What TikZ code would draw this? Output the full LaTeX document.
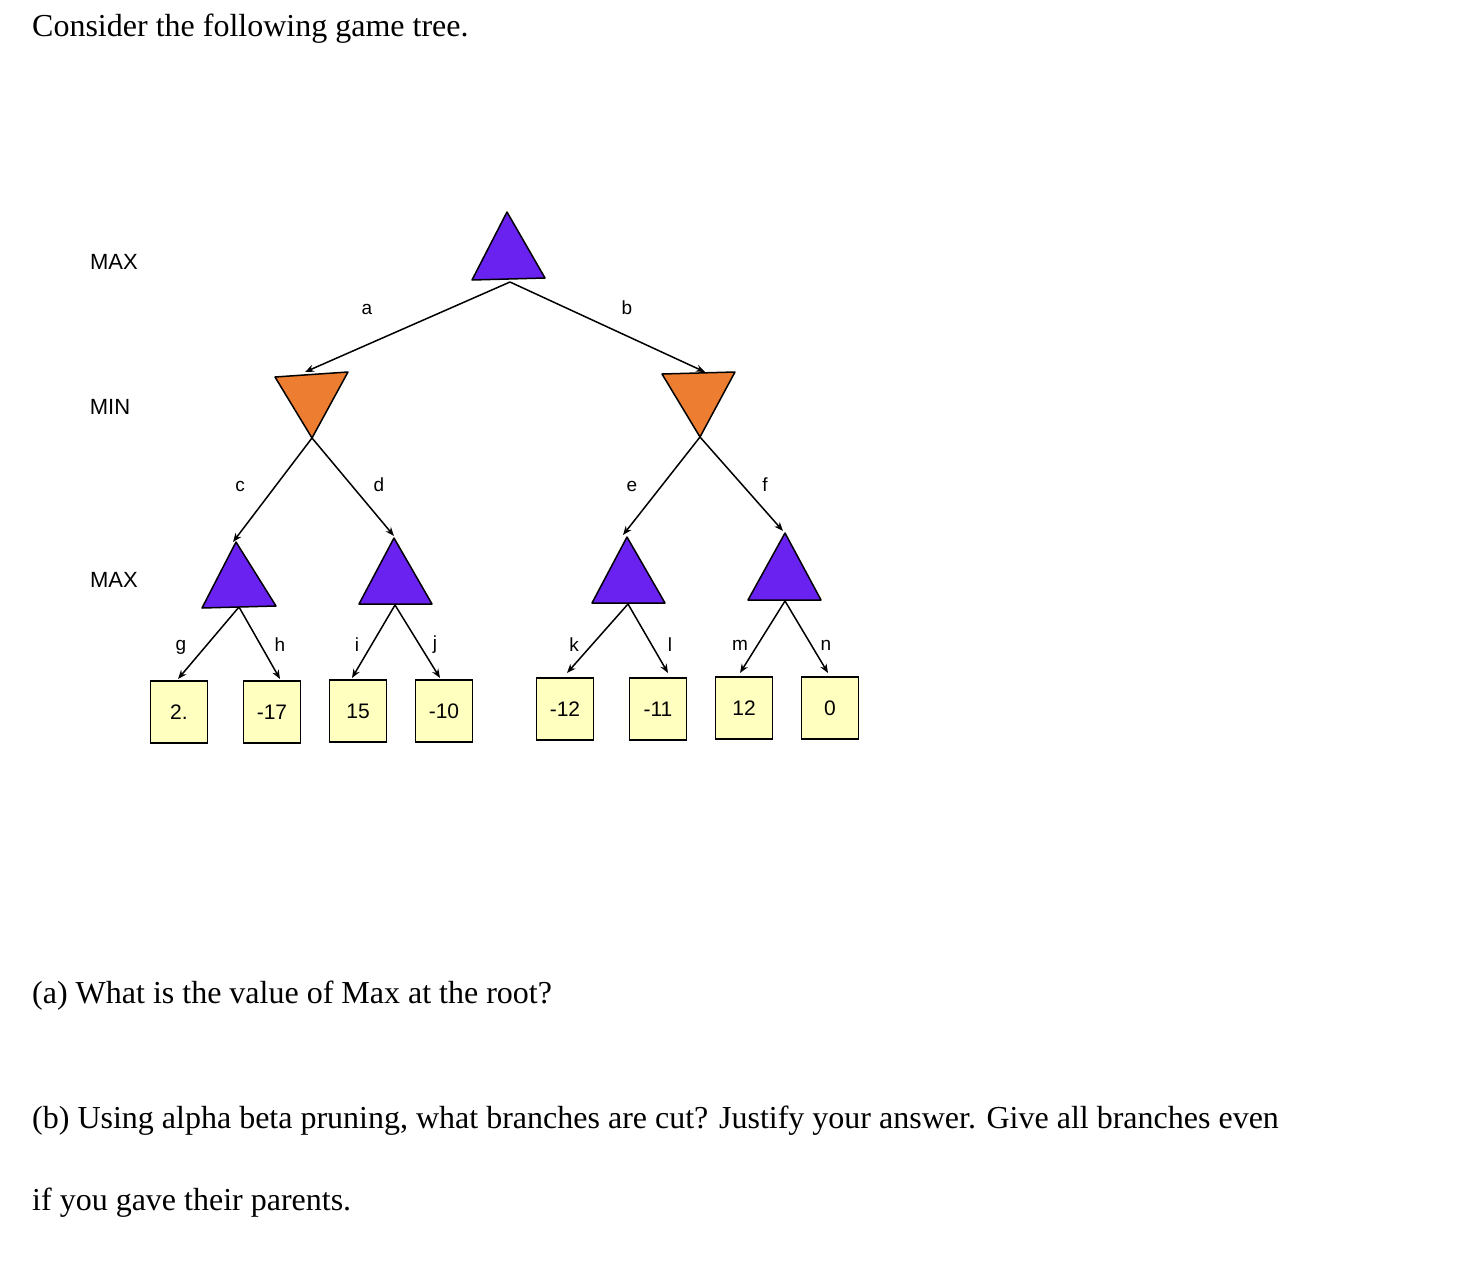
\documentclass[tikz,border=0pt]{standalone}
\usepackage{fontspec}
\setmainfont{Liberation Serif}
\newfontfamily\lsans{Liberation Sans}
\usetikzlibrary{arrows.meta}
\definecolor{maxc}{HTML}{6A22F0}
\definecolor{minc}{HTML}{ED7D31}
\definecolor{leafc}{HTML}{FFFFC0}
\begin{document}
\begin{tikzpicture}[x=1pt,y=-1pt,
  maxt/.style={fill=maxc,draw=black,line width=1.5pt,line join=round},
  mint/.style={fill=minc,draw=black,line width=1.5pt,line join=round},
  leaf/.style={draw=black,fill=leafc,line width=1.5pt,minimum width=57pt,minimum height=62pt,inner sep=0pt,font=\lsans\fontsize{21}{24}\selectfont},
  edge/.style={draw=black,line width=1.5pt,-{Stealth[length=9pt,width=7pt]}},
  el/.style={font=\lsans\fontsize{19}{22}\selectfont},
  lvl/.style={font=\lsans\fontsize{22}{26}\selectfont},
  txt/.style={font=\fontsize{32}{38}\selectfont,anchor=base west,inner sep=0pt}]
\useasboundingbox (0,0) rectangle (1478,1264);
\node[txt] (t0) at (32,36) {Consider the following game tree.};
\node[txt] (t1) at (32,1003) {(a) What is the value of Max at the root?};
\node[txt] (t2) at (32,1128) {(b) Using alpha beta pruning, what branches are cut? Justify your answer. Give all branches even};
\node[txt] (t3) at (32,1210) {if you gave their parents.};
\node[lvl] (L1) at (114,262) {MAX};
\node[lvl] (L2) at (110,407) {MIN};
\node[lvl] (L3) at (114,580) {MAX};
% triangles
\draw[maxt] (507,212) -- (545,278) -- (472,280) -- cycle;
\coordinate (r) at (510,282);
\draw[mint] (275,377) -- (348,372) -- (312,438) -- cycle;
\draw[mint] (662,374) -- (735,372) -- (700,437) -- cycle;
\coordinate (A) at (305,372); \coordinate (B) at (705,372);
\coordinate (Ab) at (312,438); \coordinate (Bb) at (700,437);
\draw[maxt] (236,542) -- (276,606) -- (202,608) -- cycle;
\draw[maxt] (394,538) -- (432,604) -- (359,604) -- cycle;
\draw[maxt] (627,537) -- (665,603) -- (592,603) -- cycle;
\draw[maxt] (785,533) -- (821,600) -- (748,600) -- cycle;
\coordinate (C) at (233,542); \coordinate (D) at (394,536);
\coordinate (E) at (623,535); \coordinate (F) at (783,531);
\coordinate (Cb) at (239,607); \coordinate (Db) at (395,605);
\coordinate (Eb) at (628,604); \coordinate (Fb) at (785,601);
% leaves
\node[leaf] (g) at (179,712) {2.};
\node[leaf] (h) at (272,712) {-17};
\node[leaf] (i) at (358,711) {15};
\node[leaf] (j) at (444,711) {-10};
\node[leaf] (k) at (565,709) {-12};
\node[leaf] (l) at (658,709) {-11};
\node[leaf] (m) at (744,708) {12};
\node[leaf] (n) at (830,708) {0};
% edges
\draw[edge] (r) -- (A); \draw[edge] (r) -- (B);
\draw[edge] (Ab) -- (C); \draw[edge] (Ab) -- (D);
\draw[edge] (Bb) -- (E); \draw[edge] (Bb) -- (F);
\draw[edge] (Cb) -- (178,679); \draw[edge] (Cb) -- (280,679);
\draw[edge] (Db) -- (352,678); \draw[edge] (Db) -- (440,678);
\draw[edge] (Eb) -- (567,673); \draw[edge] (Eb) -- (668,673);
\draw[edge] (Fb) -- (740,673); \draw[edge] (Fb) -- (828,673);
% edge labels
\node[el] (la) at (367,309) {a}; \node[el] (lb) at (627,308) {b};
\node[el] (lc) at (240,486) {c}; \node[el] (ld) at (379,485) {d};
\node[el] (le) at (632,486) {e}; \node[el] (lf) at (765,485) {f};
\node[el] (lg) at (181,647) {g}; \node[el] (lh) at (280,645) {h};
\node[el] (li) at (357,645) {i}; \node[el] (lj) at (435,645) {j};
\node[el] (lk) at (574,645) {k}; \node[el] (ll) at (670,645) {l};
\node[el] (lm) at (740,645) {m}; \node[el] (ln) at (826,645) {n};
\end{tikzpicture}
\end{document}
